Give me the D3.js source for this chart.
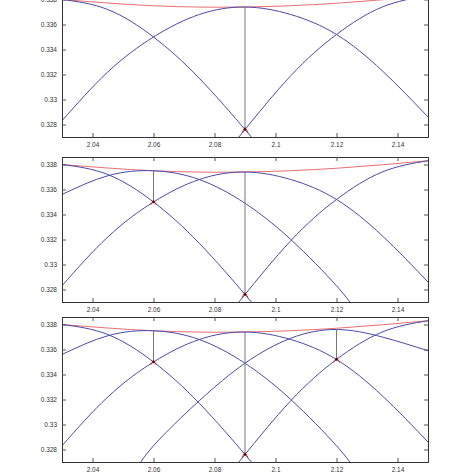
<!DOCTYPE html>
<html>
<head>
<script src="https://cdn.jsdelivr.net/npm/d3@7"></script>
<style>body{margin:0;background:#fff}</style>
</head>
<body>
<div id="chart"></div>
<script>
var xTicks = [2.04, 2.06, 2.08, 2.1, 2.12, 2.14];
var yTicks = [0.328, 0.33, 0.332, 0.334, 0.336, 0.338];

// blue arcs, as points
var arcA = [[2.03,0.3380],[2.045,0.3372],[2.06,0.3350],[2.075,0.3317],[2.09,0.3276],[2.096,0.3258]];
var arcB = [[2.03,0.3283],[2.045,0.3322],[2.06,0.3350],[2.075,0.3368],[2.09,0.3374],[2.105,0.3368],[2.12,0.3352],[2.135,0.3323],[2.15,0.3286]];
var arcC = [[2.084,0.3258],[2.09,0.3276],[2.105,0.3319],[2.12,0.3352],[2.135,0.3374],[2.15,0.3383]];
var arcD = [[2.03,0.3356],[2.045,0.3371],[2.06,0.3375],[2.075,0.3368],[2.09,0.3349],[2.105,0.3320],[2.12,0.3283],[2.126,0.3264]];
var arcF = [[2.054,0.3262],[2.06,0.3283],[2.075,0.3319],[2.09,0.3349],[2.105,0.3369],[2.12,0.3376],[2.135,0.3370],[2.15,0.3359]];
var envelope = [[2.03,0.3380],[2.06,0.3375],[2.09,0.3374],[2.12,0.3377],[2.15,0.3383]];

var panels = [
  {top: -8, arcs: [arcA, arcB, arcC], stems: [[2.09,0.3374,0.3276]]},
  {top: 157, arcs: [arcA, arcB, arcC, arcD], stems: [[2.06,0.3375,0.3350],[2.09,0.3374,0.3276]]},
  {top: 317, arcs: [arcA, arcB, arcC, arcD, arcF], stems: [[2.06,0.3375,0.3350],[2.09,0.3374,0.3276],[2.12,0.3376,0.3352]]}
];

var svg = d3.select("#chart").append("svg")
    .attr("width", 474)
    .attr("height", 474);

var x = d3.scaleLinear().domain([2.03, 2.15]).range([62, 428]);
var h = 145;

panels.forEach(function(p, i){
    var y = d3.scaleLinear().domain([0.327, 0.3386]).range([p.top + h, p.top]);
    var g = svg.append("g");

    g.append("clipPath").attr("id", "clip" + i)
      .append("rect").attr("x", 62).attr("y", p.top).attr("width", 366).attr("height", h);

    var line = d3.line()
        .x(function(d){ return x(d[0]); })
        .y(function(d){ return y(d[1]); })
        .curve(d3.curveNatural);

    var plot = g.append("g").attr("clip-path", "url(#clip" + i + ")");

    plot.append("path").datum(envelope)
        .attr("d", line).attr("fill", "none")
        .attr("stroke", "#e87070").attr("stroke-width", 1);

    plot.selectAll("path.arc").data(p.arcs).enter()
      .append("path").attr("class", "arc")
        .attr("d", line).attr("fill", "none")
        .attr("stroke", "#4a4aaa").attr("stroke-width", 1);

    plot.selectAll("line.stem").data(p.stems).enter()
      .append("line").attr("class", "stem")
        .attr("x1", function(d){ return x(d[0]); })
        .attr("x2", function(d){ return x(d[0]); })
        .attr("y1", function(d){ return y(d[1]); })
        .attr("y2", function(d){ return y(d[2]); })
        .attr("stroke", "#777").attr("stroke-width", 1);

    plot.selectAll("path.mark").data(p.stems).enter()
      .append("path").attr("class", "mark")
        .attr("d", function(d){
            var cx = x(d[0]), cy = y(d[2]);
            return "M" + (cx-3) + "," + (cy+3) + "L" + cx + "," + (cy-2) + "L" + (cx+3) + "," + (cy+3);
        })
        .attr("fill", "none").attr("stroke", "#d03030").attr("stroke-width", 1);

    plot.selectAll("circle.mark").data(p.stems).enter()
      .append("circle").attr("class", "mark")
        .attr("cx", function(d){ return x(d[0]); })
        .attr("cy", function(d){ return y(d[2]); })
        .attr("r", 1.2).attr("fill", "#400");

    // frame + ticks on all sides
    g.append("g").attr("transform", "translate(0," + (p.top + h) + ")")
        .call(d3.axisBottom(x).tickValues(xTicks).tickSize(-4).tickPadding(5).tickFormat(d3.format("")));
    g.append("g").attr("transform", "translate(0," + p.top + ")")
        .call(d3.axisTop(x).tickValues(xTicks).tickSize(-4).tickFormat(""));
    g.append("g").attr("transform", "translate(62,0)")
        .call(d3.axisLeft(y).tickValues(yTicks).tickSize(-4).tickPadding(5).tickFormat(d3.format("")));
    g.append("g").attr("transform", "translate(428,0)")
        .call(d3.axisRight(y).tickValues(yTicks).tickSize(-4).tickFormat(""));

    g.selectAll(".domain").attr("stroke", "#333").attr("stroke-width", 1);
    g.selectAll(".tick line").attr("stroke", "#555");
    g.selectAll(".tick text").attr("fill", "#333")
        .style("font-family", "Liberation Sans, Arial, sans-serif").style("font-size", "6.5px");
});
</script>
</body>
</html>
